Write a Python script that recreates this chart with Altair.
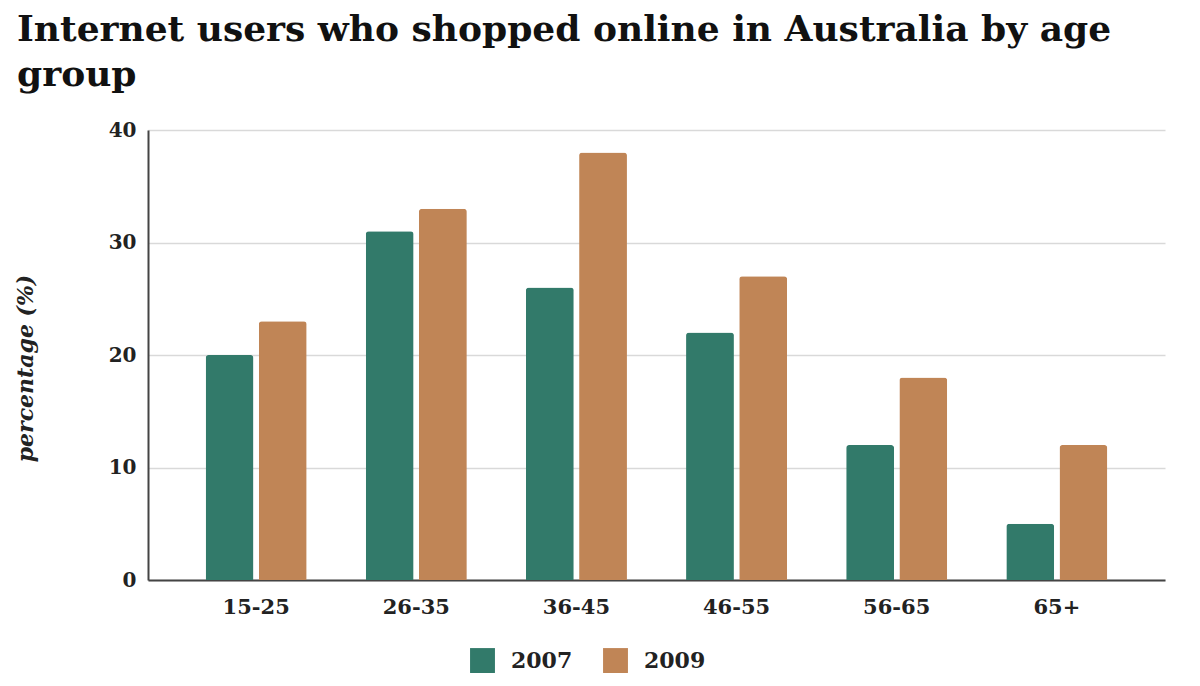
import altair as alt
import pandas as pd

age_groups = ["15-25", "26-35", "36-45", "46-55", "56-65", "65+"]
years = ["2007", "2009"]
values_2007 = [20, 31, 26, 22, 12, 5]
values_2009 = [23, 33, 38, 27, 18, 12]
colors = ["#327a6a", "#c08556"]

rows = []
for g, a, b in zip(age_groups, values_2007, values_2009):
    rows.append({"age": g, "year": "2007", "pct": a})
    rows.append({"age": g, "year": "2009", "pct": b})
df = pd.DataFrame(rows)

FONT = "DejaVu Serif"

chart = alt.Chart(df).mark_bar(
    cornerRadiusTopLeft=3, cornerRadiusTopRight=3
).encode(
    x=alt.X("age:N", sort=age_groups,
            scale=alt.Scale(paddingInner=0.369, paddingOuter=0.36),
            axis=alt.Axis(title=None, labelAngle=0, labelFont=FONT, labelFontSize=21,
                          labelFontWeight="bold", labelColor="#222", labelPadding=16,
                          ticks=False, domainColor="#444", domainWidth=2, grid=False)),
    xOffset=alt.XOffset("year:N", sort=years, scale=alt.Scale(paddingInner=0.1)),
    y=alt.Y("pct:Q", scale=alt.Scale(domain=[0, 40]),
            axis=alt.Axis(title="percentage (%)", values=[0, 10, 20, 30, 40],
                          labelFont=FONT, labelFontSize=20, labelFontWeight="bold",
                          labelColor="#222", labelPadding=12, ticks=False,
                          domainColor="#444", domainWidth=2,
                          gridColor="#d9d9d9", gridWidth=1.5,
                          titleFont=FONT, titleFontSize=22, titleFontWeight="bold",
                          titleFontStyle="italic", titleColor="#222",
                          titleAngle=270, titleX=-111, titleY=238)),
    color=alt.Color("year:N", sort=years,
                    scale=alt.Scale(domain=years, range=colors),
                    legend=alt.Legend(title=None, orient="none", direction="horizontal",
                                      legendX=322, legendY=518,
                                      symbolType="square", symbolSize=620,
                                      symbolStrokeWidth=0, symbolOpacity=1,
                                      labelFont=FONT, labelFontSize=22,
                                      labelFontWeight="bold", labelColor="#222",
                                      labelOffset=16, columnPadding=30)),
).properties(
    width=1017,
    height=450,
    autosize=alt.AutoSizeParams(type="none"),
    padding={"left": 140, "top": 122, "right": 27, "bottom": 106},
    title=alt.TitleParams(
        text=["Internet users who shopped online in Australia by age", "group"],
        anchor="start", frame="group", dx=-131, dy=-6,
        font=FONT, fontSize=36, fontWeight="bold", color="#111",
        lineHeight=45, offset=20,
    ),
).configure_view(stroke=None)

chart.save("out.html", embed_options={"renderer": "svg", "actions": False})
